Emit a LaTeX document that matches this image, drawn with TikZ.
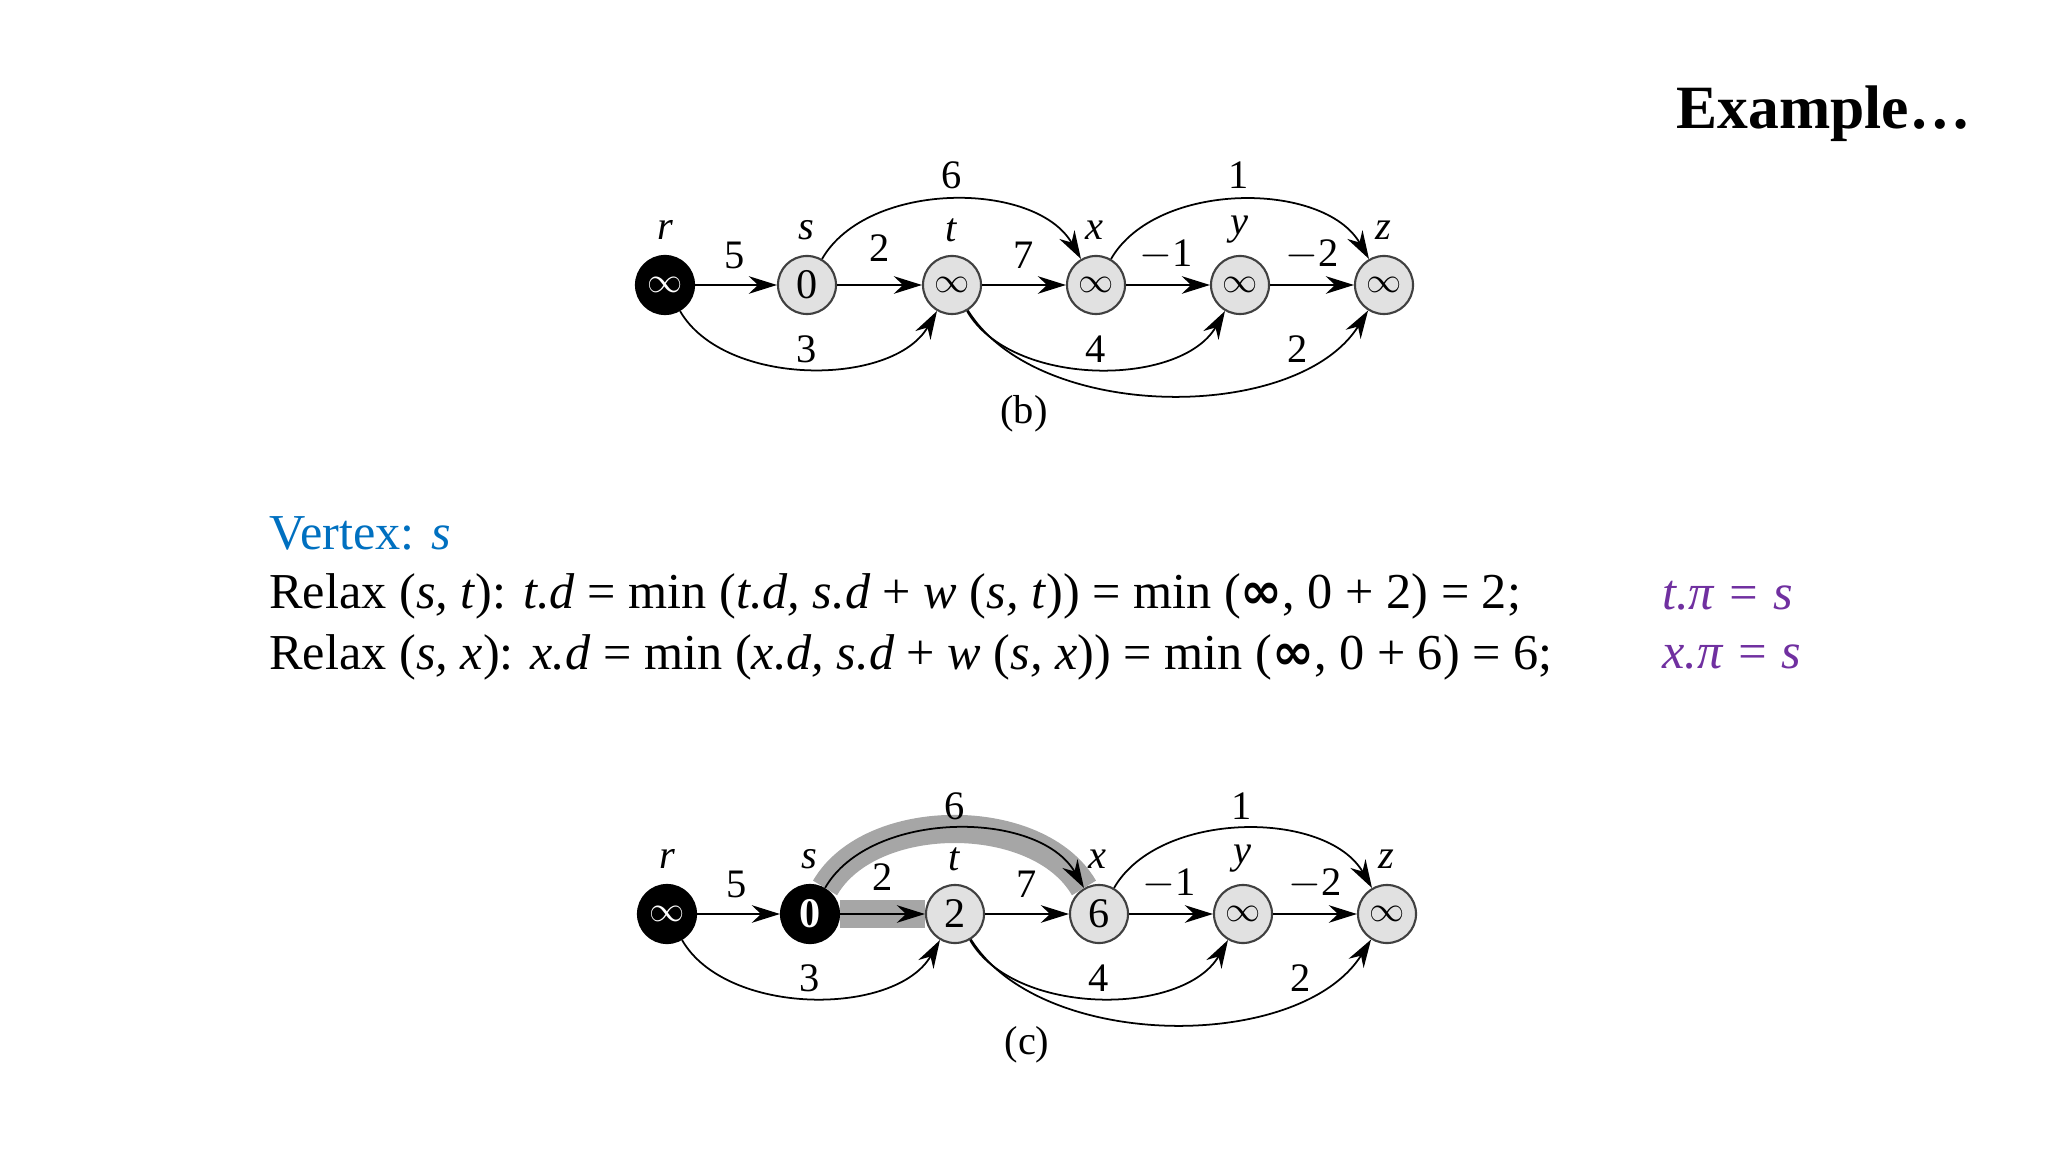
\documentclass[tikz,border=0pt]{standalone}
\usepackage{fontspec}
\setmainfont{Liberation Serif}
\newfontfamily\djv{DejaVu Sans}
\usetikzlibrary{arrows.meta}
\definecolor{vblue}{RGB}{0,112,192}
\definecolor{vpurp}{RGB}{112,48,160}
\definecolor{nfill}{RGB}{225,225,225}
\begin{document}
\begin{tikzpicture}[x=0.01cm,y=-0.01cm,
  vert/.style={circle,draw=black!75,fill=nfill,line width=0.6pt,minimum size=0.58cm,inner sep=0pt,font=\fontsize{12}{12}\selectfont},
  bvert/.style={vert,fill=black,draw=black,text=white},
  inf/.style={font=\fontsize{10}{10}\selectfont},
  lab/.style={font=\fontsize{11.5}{12}\selectfont},
  vlab/.style={font=\fontsize{11.5}{12}\selectfont\itshape},
  edge/.style={-{Stealth[length=8pt,width=5pt]},line width=0.5pt},
  hl/.style={line width=8pt,draw=black!35},
  txt/.style={anchor=west,font=\fontsize{14.3}{16}\selectfont}]
\useasboundingbox (0,0) rectangle (2048,1152);
\node[anchor=east,font=\fontsize{17.5}{20}\selectfont\bfseries] (title) at (1983,114) {Example\ldots};
% graph (b)
\node[bvert,inf] (r1) at (665,285) {$\infty$};
\node[vert] (s1) at (807,285) {0};
\node[vert,inf] (t1) at (952,285) {$\infty$};
\node[vert,inf] (x1) at (1096,285) {$\infty$};
\node[vert,inf] (y1) at (1240,285) {$\infty$};
\node[vert,inf] (z1) at (1384,285) {$\infty$};
\foreach \n/\l/\xx in {r/r/665,s/s/806,t/t/951,x/x/1094,y/y/1239,z/z/1383}{\node[vlab] (\n1l) at (\xx,230) {\l};}
\draw[edge] (r1) -- (s1); \draw[edge] (s1) -- (t1); \draw[edge] (t1) -- (x1);
\draw[edge] (x1) -- (y1); \draw[edge] (y1) -- (z1);
\draw[edge] (s1) to[out=60,in=120,looseness=0.9] (x1);
\draw[edge] (x1) to[out=60,in=120,looseness=0.9] (z1);
\draw[edge] (r1) to[out=-60,in=-120,looseness=0.88] (t1);
\draw[edge] (t1) to[out=-60,in=-120,looseness=0.88] (y1);
\draw[edge] (t1) to[out=-58,in=-122,looseness=0.85] (z1);
\node[lab] at (735,255) {5}; \node[lab] at (880,248) {2}; \node[lab] at (1024,255) {7};
\node[lab] at (1166,255) {$-$1}; \node[lab] at (1312,255) {$-$2};
\node[lab] at (952,175) {6}; \node[lab] at (1239,175) {1};
\node[lab] at (807,349) {3}; \node[lab] at (1096,349) {4}; \node[lab] at (1298,349) {2};
\node[lab] (capb) at (1024,414) {(b)};
% text
\node[txt,text=vblue] (v) at (257,533) {Vertex: \textit{s}};
\node[txt] (l1) at (257,596) {Relax (\textit{s, t}): \textit{t.d} = min (\textit{t.d, s.d} + \textit{w} (\textit{s, t})) = min ({\djv\bfseries ∞}, 0 + 2) = 2;};
\node[txt] (l2) at (257,657) {Relax (\textit{s, x}): \textit{x.d} = min (\textit{x.d, s.d} + \textit{w} (\textit{s, x})) = min ({\djv\bfseries ∞}, 0 + 6) = 6;};
\node[txt,text=vpurp] (p1) at (1650,596) {\textit{t.π = s}};
\node[txt,text=vpurp] (p2) at (1650,657) {\textit{x.π = s}};
% graph (c)
\node[bvert,inf] (r2) at (667,914) {$\infty$};
\node[bvert,font=\fontsize{12}{12}\selectfont\bfseries] (s2) at (810,914) {0};
\node[vert] (t2) at (955,914) {2};
\node[vert] (x2) at (1099,914) {6};
\node[vert,inf] (y2) at (1243,914) {$\infty$};
\node[vert,inf] (z2) at (1387,914) {$\infty$};
\foreach \n/\l/\xx in {r/r/667,s/s/809,t/t/954,x/x/1097,y/y/1242,z/z/1386}{\node[vlab] (\n2l) at (\xx,859) {\l};}
\draw[hl] (s2.east) -- (t2.west);
\draw[hl] (s2) to[out=60,in=120,looseness=0.9] (x2);
\draw[edge] (r2) -- (s2); \draw[edge] (s2) -- (t2); \draw[edge] (t2) -- (x2);
\draw[edge] (x2) -- (y2); \draw[edge] (y2) -- (z2);
\draw[edge] (s2) to[out=60,in=120,looseness=0.9] (x2);
\draw[edge] (x2) to[out=60,in=120,looseness=0.9] (z2);
\draw[edge] (r2) to[out=-60,in=-120,looseness=0.88] (t2);
\draw[edge] (t2) to[out=-60,in=-120,looseness=0.88] (y2);
\draw[edge] (t2) to[out=-58,in=-122,looseness=0.85] (z2);
\node[lab] at (737,884) {5}; \node[lab] at (883,877) {2}; \node[lab] at (1027,884) {7};
\node[lab] at (1169,884) {$-$1}; \node[lab] at (1315,884) {$-$2};
\node[lab] at (955,806) {6}; \node[lab] at (1242,806) {1};
\node[lab] at (810,978) {3}; \node[lab] at (1099,978) {4}; \node[lab] at (1301,978) {2};
\node[lab] (capc) at (1027,1045) {(c)};
\end{tikzpicture}
\end{document}
